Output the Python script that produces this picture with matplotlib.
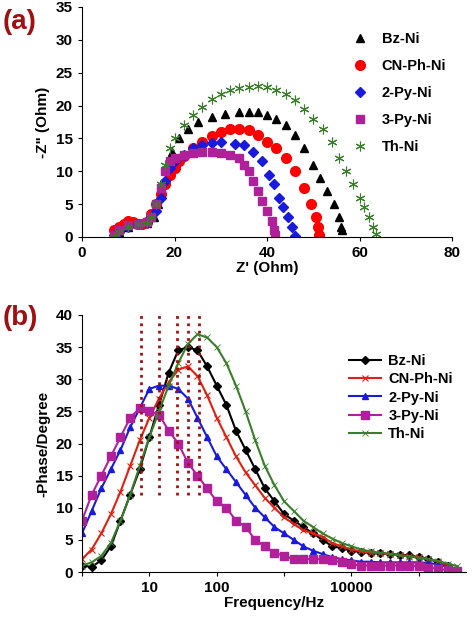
import numpy as np
import matplotlib
matplotlib.use("Agg")
import matplotlib.pyplot as plt
from matplotlib.ticker import FixedLocator, FixedFormatter, NullLocator

plt.rcParams['font.family'] = ['Liberation Sans', 'DejaVu Sans']
plt.rcParams['font.weight'] = 'bold'

# ---- (a) Nyquist data ----
bz_x = [7,8,10,12,14,15.5,16.5,17.5,18.5,19.5,21,23,25,28,31,34,36,38,40,42,44,46,48,50,51.5,53,54.5,55.5,56,56.2]
bz_y = [0.2,0.8,1.5,2,2.2,3,5,8,11,13,15,16.5,17.5,18.2,18.7,19,19,19,18.5,18,17,15.5,13.5,11,9,7,5,3,1.5,1]
cn_x = [7,8,9,10,11,12,13,14,15,16,17,18,19,20,21,22,24,26,28,30,32,34,36,38,40,42,44,46,48,49.5,50.5,51,51.2]
cn_y = [1,1.5,2,2.5,2.3,2,2,2.3,3.5,5,6.5,8,9.5,10.5,11.5,12.3,13.5,14.5,15.3,16,16.4,16.5,16.3,15.5,14.5,13.5,12,10,7.5,5,3,1.5,0.3]
py2_x = [7,8,10,12,14,15,16,17,18,19,20,22,24,26,28,30,33,35,37,39,40.5,41.5,42.5,43.5,44.5,45.5,46]
py2_y = [0.3,0.8,1.5,2,2.2,3,4,6,8.5,10.5,11.5,12.5,13.5,14,14.3,14.4,14.2,14,13,11.5,9.5,8,6,4.5,3,1.5,0.2]
py3_x = [7,8,10,12,14,15,16,17,18,19,20,22,24,26,28,30,32,34,35,36,37,38,39,40,41,41.5,41.7]
py3_y = [0.3,1,1.8,2,2.3,3,5,7.5,10,11.5,12,12.5,12.8,13,13,12.8,12.5,12,11,10,8.5,7,5.5,4,2.5,1,0.3]
th_x = [7,8,10,12,14,15,16,17,18,19,20,22,24,26,28,30,32,34,36,38,40,42,44,46,48,50,52,54,55.5,57,58.5,60,61,62,63,63.5]
th_y = [0,0.8,1.5,2,2.2,3,5,8,11,13.5,15,17,18.5,19.8,21,21.8,22.3,22.7,22.9,23,22.9,22.4,21.8,20.8,19.5,18,16.5,14.5,12,10,8,6,4.5,3,1.5,0.5]

# ---- (b) Bode data ----
logf = np.arange(40) / 7.0
freq = 10 ** logf
bz_p = [1,0.8,1.8,4,8,12,16,21,26,31,34.5,35,34.5,32,29,26,22,19,16,13,11,9,8,7,6,5,4,3.7,3.3,3.1,3.0,2.9,2.8,2.7,2.6,2.3,2.0,1.6,1.0,0.3]
cn_p = [2,3.5,6,9,12.5,16.5,20.5,24,27,29.5,31.5,32,30.5,27.5,24,21,18,15.5,13.5,11.5,10,8.5,7.5,6.5,6,5.5,4.5,4,3.5,3.2,3,2.9,2.8,2.6,2.5,2.3,2,1.6,1.0,0.3]
py2_p = [6,9.5,13,16,19,22.5,25.5,28.5,29,29,28.5,27,24,21,18,16,14,12,10,8.5,7,6,5,4,3.3,2.8,2.3,2,1.8,1.6,1.6,1.5,1.5,1.5,1.5,1.5,1.4,1.2,0.8,0.3]
py3_p = [8,12,15,18,21,24,25.5,25,24.5,22,20,17,15,13,11,10,8,7,5,4,3,2.5,2,2,2,2,1.8,1.5,1.2,1,1,1,1,1,1,0.9,0.7,0.5,0.3,0.2]
th_p = [1,1.5,2.5,4.5,8,12,16.5,21,25,29,32.5,35.5,37,36.5,35,32.5,29,25,20.5,16.5,13.5,11,9.5,8,7,6,5.2,4.5,4,3.5,3.2,3,2.8,2.6,2.4,2.2,2,1.7,1.3,0.9]
peak_f = [7.6, 14, 26, 38, 55]

labels = ['Bz-Ni', 'CN-Ph-Ni', '2-Py-Ni', '3-Py-Ni', 'Th-Ni']
green = '#3a7d2a'
fig = plt.figure(figsize=(4.74, 6.17), dpi=100)

ax1 = fig.add_axes([82/474, 1-237/617, 370/474, 230/617])
ax1.plot(bz_x, bz_y, '^', color='black', ms=6, ls='none', label=labels[0])
ax1.plot(cn_x, cn_y, 'o', color='red', ms=7, ls='none', label=labels[1])
ax1.plot(py2_x, py2_y, 'D', color='#1a1adb', ms=5, ls='none', label=labels[2])
ax1.plot(py3_x, py3_y, 's', color='#b0209a', ms=6, ls='none', label=labels[3])
ax1.plot(th_x, th_y, marker=(6, 2, 0), color=green, ms=7, ls='none', mew=0.8, label=labels[4])
ax1.set_xlim(0, 80); ax1.set_ylim(0, 35)
ax1.set_xticks([0, 20, 40, 60, 80]); ax1.set_yticks(range(0, 36, 5))
ax1.spines['top'].set_visible(False); ax1.spines['right'].set_visible(False)
ax1.set_xlabel("Z' (Ohm)", fontsize=11, fontweight='bold', labelpad=1)
ax1.set_ylabel('-Z" (Ohm)', fontsize=11, fontweight='bold', labelpad=4)
ax1.tick_params(labelsize=11, length=3)
ax1.legend(loc='upper right', bbox_to_anchor=(1.02, 0.95), frameon=False, fontsize=10.5,
           handletextpad=0.5, labelspacing=0.9)
fig.text(0.005, 0.985, '(a)', fontsize=20, fontweight='bold', color='#a01010', va='top')

ax2 = fig.add_axes([82/474, 1-572/617, 384/474, 257/617])
ax2.plot(freq, bz_p, '-D', color='black', ms=4, lw=1.5, label=labels[0])
ax2.plot(freq, cn_p, '-x', color='#e02010', ms=5, lw=1.5, mew=0.8, label=labels[1])
ax2.plot(freq, py2_p, '-^', color='#1a1adb', ms=5, lw=1.5, label=labels[2])
ax2.plot(freq, py3_p, '-s', color='#b0209a', ms=5.5, lw=1.5, label=labels[3])
ax2.plot(freq, th_p, '-x', color=green, ms=5, lw=1.5, mew=0.6, label=labels[4])
ax2.vlines(peak_f, 12, 40, colors='#a01010', linestyles=':', lw=2)
ax2.set_xscale('log')
ax2.set_xlim(1, 10**5.7); ax2.set_ylim(0, 40)
ax2.xaxis.set_major_locator(FixedLocator([1, 10, 100, 1000, 1e4, 1e5]))
ax2.xaxis.set_major_formatter(FixedFormatter(['', '10', '100', '', '10000', '']))
ax2.xaxis.set_minor_locator(NullLocator())
ax2.set_yticks(range(0, 41, 5))
ax2.spines['top'].set_visible(False); ax2.spines['right'].set_visible(False)
ax2.set_xlabel('Frequency/Hz', fontsize=11, fontweight='bold', labelpad=1)
ax2.set_ylabel('-Phase/Degree', fontsize=11, fontweight='bold', labelpad=4)
ax2.tick_params(labelsize=11, length=3)
ax2.legend(loc='upper right', bbox_to_anchor=(1.0, 0.9), frameon=False, fontsize=10.5,
           handlelength=2.2, handletextpad=0.5, labelspacing=0.3)
fig.text(0.005, 1-305/617, '(b)', fontsize=20, fontweight='bold', color='#a01010', va='top')

fig.savefig('out.png', dpi=100)
